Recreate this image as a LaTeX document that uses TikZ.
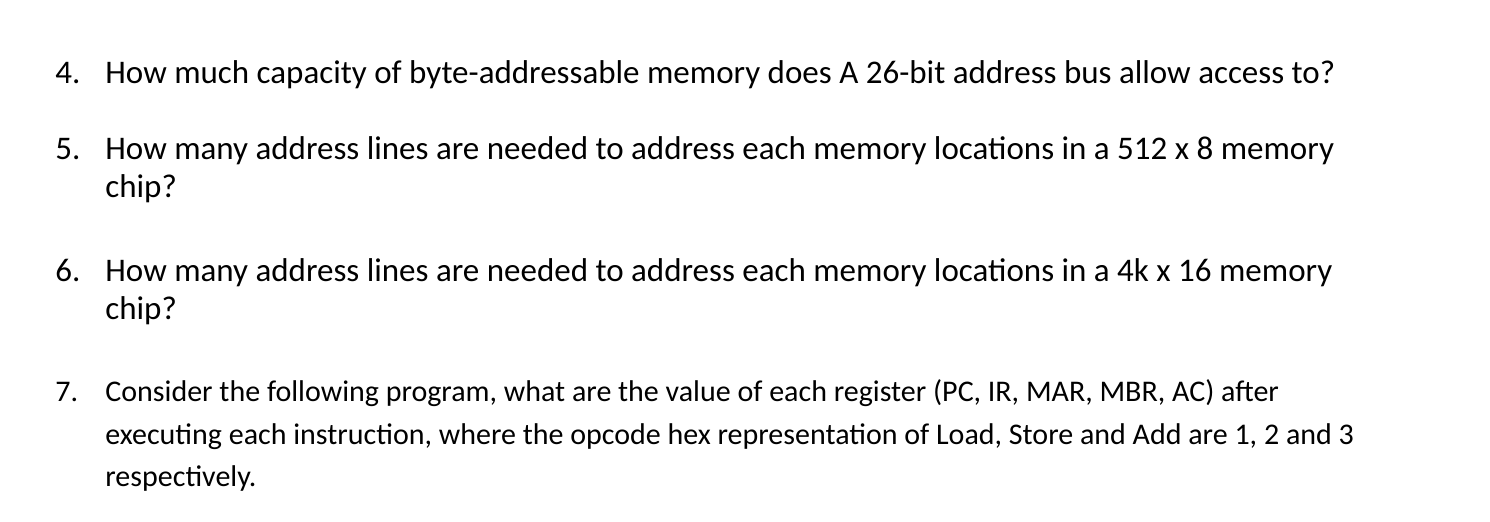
\documentclass[tikz,border=0pt]{standalone}
\usepackage{fontspec}
\setmainfont{Carlito}
\begin{document}
\begin{tikzpicture}[x=0.5pt,y=-0.5pt,
  t/.style={anchor=base west,inner sep=0pt,font=\fontsize{16.5}{20}\selectfont},
  s/.style={anchor=base west,inner sep=0pt,font=\fontsize{15}{18}\selectfont}]
\useasboundingbox (0,0) rectangle (1490,522);
\node[t] (n4) at (55,84) {4.};
\node[t] (q4) at (105,84) {How much capacity of byte-addressable memory does A 26-bit address bus allow access to?};
\node[t] (n5) at (55,160) {5.};
\node[t] (q5a) at (105,160) {How many address lines are needed to address each memory locations in a 512 x 8 memory};
\node[t] (q5b) at (105,198) {chip?};
\node[t] (n6) at (55,282) {6.};
\node[t] (q6a) at (105,282) {How many address lines are needed to address each memory locations in a 4k x 16 memory};
\node[t] (q6b) at (105,320) {chip?};
\node[s] (n7) at (55,402) {7.};
\node[s] (q7a) at (105,402) {Consider the following program, what are the value of each register (PC, IR, MAR, MBR, AC) after};
\node[s] (q7b) at (105,445) {executing each instruction, where the opcode hex representation of Load, Store and Add are 1, 2 and 3};
\node[s] (q7c) at (105,487) {respectively.};
\end{tikzpicture}
\end{document}
